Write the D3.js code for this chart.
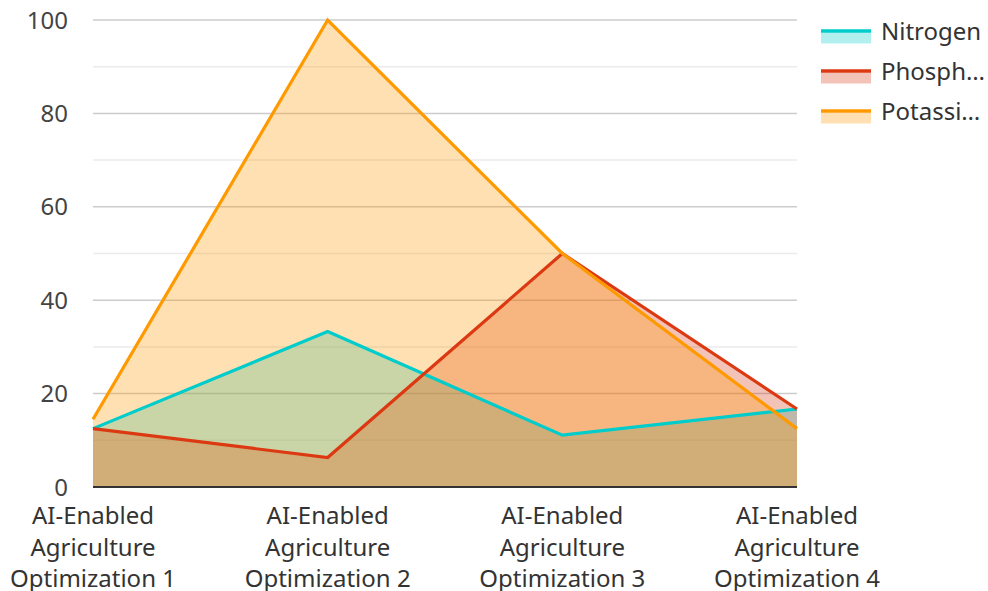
<!DOCTYPE html>
<html>
<head>
<meta charset="utf-8">
<script src="https://cdn.jsdelivr.net/npm/d3@7"></script>
<style>
  html, body { margin: 0; padding: 0; background: #fff; }
  svg { display: block; font-family: "Noto Sans", "Open Sans", sans-serif; }
</style>
</head>
<body>
<svg id="chart" width="988" height="591"></svg>
<script>
// Categories along the x axis
const categories = [
  "AI-Enabled Agriculture Optimization 1",
  "AI-Enabled Agriculture Optimization 2",
  "AI-Enabled Agriculture Optimization 3",
  "AI-Enabled Agriculture Optimization 4"
];
const categoryLines = [
  ["AI-Enabled", "Agriculture", "Optimization 1"],
  ["AI-Enabled", "Agriculture", "Optimization 2"],
  ["AI-Enabled", "Agriculture", "Optimization 3"],
  ["AI-Enabled", "Agriculture", "Optimization 4"]
];

// Series values
const nitrogen   = [12.5, 33.3, 11.1, 16.7];
const phosphorus = [12.5, 6.3, 50, 16.7];
const potassium  = [14.5, 100, 50, 12.5];

const seriesNames  = ["Nitrogen", "Phosphorus", "Potassium"];
const legendLabels = ["Nitrogen", "Phosph…", "Potassi…"];
const seriesColors = ["#00cccc", "#dc3912", "#ff9900"];

// Y axis ticks
const majorTicks = [0, 20, 40, 60, 80, 100];
const minorTicks = [10, 30, 50, 70, 90];

const seriesData = [nitrogen, phosphorus, potassium];

const svg = d3.select("#chart");
const plotLeft = 93, plotRight = 797, plotTop = 20, plotBottom = 487;

const x = d3.scalePoint().domain(categories).range([plotLeft, plotRight]).padding(0);
const y = d3.scaleLinear().domain([0, 100]).range([plotBottom, plotTop]);

// Gridlines
svg.append("g").selectAll("line").data(minorTicks).join("line")
  .attr("x1", plotLeft).attr("x2", plotRight)
  .attr("y1", d => y(d)).attr("y2", d => y(d))
  .attr("stroke", "#ebebeb").attr("stroke-width", 1.5);
svg.append("g").selectAll("line").data(majorTicks.filter(d => d > 0)).join("line")
  .attr("x1", plotLeft).attr("x2", plotRight)
  .attr("y1", d => y(d)).attr("y2", d => y(d))
  .attr("stroke", "#cccccc").attr("stroke-width", 1.5);

// Y tick labels
svg.append("g").selectAll("text").data(majorTicks).join("text")
  .attr("x", 68).attr("y", d => y(d)).attr("dy", "0.36em")
  .attr("text-anchor", "end")
  .attr("font-size", 24).attr("fill", "#444")
  .text(d => d);

// Areas
const area = d3.area()
  .x((d, i) => x(categories[i]))
  .y0(y(0))
  .y1(d => y(d));
const line = d3.line()
  .x((d, i) => x(categories[i]))
  .y(d => y(d));

svg.append("g").selectAll("path").data(seriesData).join("path")
  .attr("d", d => area(d))
  .attr("fill", (d, i) => seriesColors[i])
  .attr("fill-opacity", 0.3);

// Baseline
svg.append("line")
  .attr("x1", plotLeft).attr("x2", plotRight)
  .attr("y1", y(0)).attr("y2", y(0))
  .attr("stroke", "#333").attr("stroke-width", 2);

// Lines
svg.append("g").selectAll("path").data(seriesData).join("path")
  .attr("d", d => line(d))
  .attr("fill", "none")
  .attr("stroke", (d, i) => seriesColors[i])
  .attr("stroke-width", 3.2)
  .attr("stroke-linejoin", "miter");

// X axis labels
const xl = svg.append("g").selectAll("text").data(categories).join("text")
  .attr("x", d => x(d))
  .attr("text-anchor", "middle")
  .attr("font-size", 24).attr("fill", "#333");
xl.each(function (d, i) {
  d3.select(this).selectAll("tspan").data(categoryLines[i]).join("tspan")
    .attr("x", x(d))
    .attr("y", (t, j) => 524 + j * 31.5)
    .text(t => t);
});

// Legend
const lg = svg.append("g").selectAll("g").data(seriesNames).join("g")
  .attr("transform", (d, i) => `translate(0, ${31 + i * 40})`);
lg.append("rect")
  .attr("x", 821).attr("y", 1.5).attr("width", 50).attr("height", 11)
  .attr("fill", (d, i) => seriesColors[i]).attr("fill-opacity", 0.3);
lg.append("line")
  .attr("x1", 821).attr("x2", 871).attr("y1", 0).attr("y2", 0)
  .attr("stroke", (d, i) => seriesColors[i]).attr("stroke-width", 3.5);
lg.append("text")
  .attr("x", 881).attr("y", 9)
  .attr("font-size", 24).attr("fill", "#333")
  .text((d, i) => legendLabels[i]);
</script>
</body>
</html>
